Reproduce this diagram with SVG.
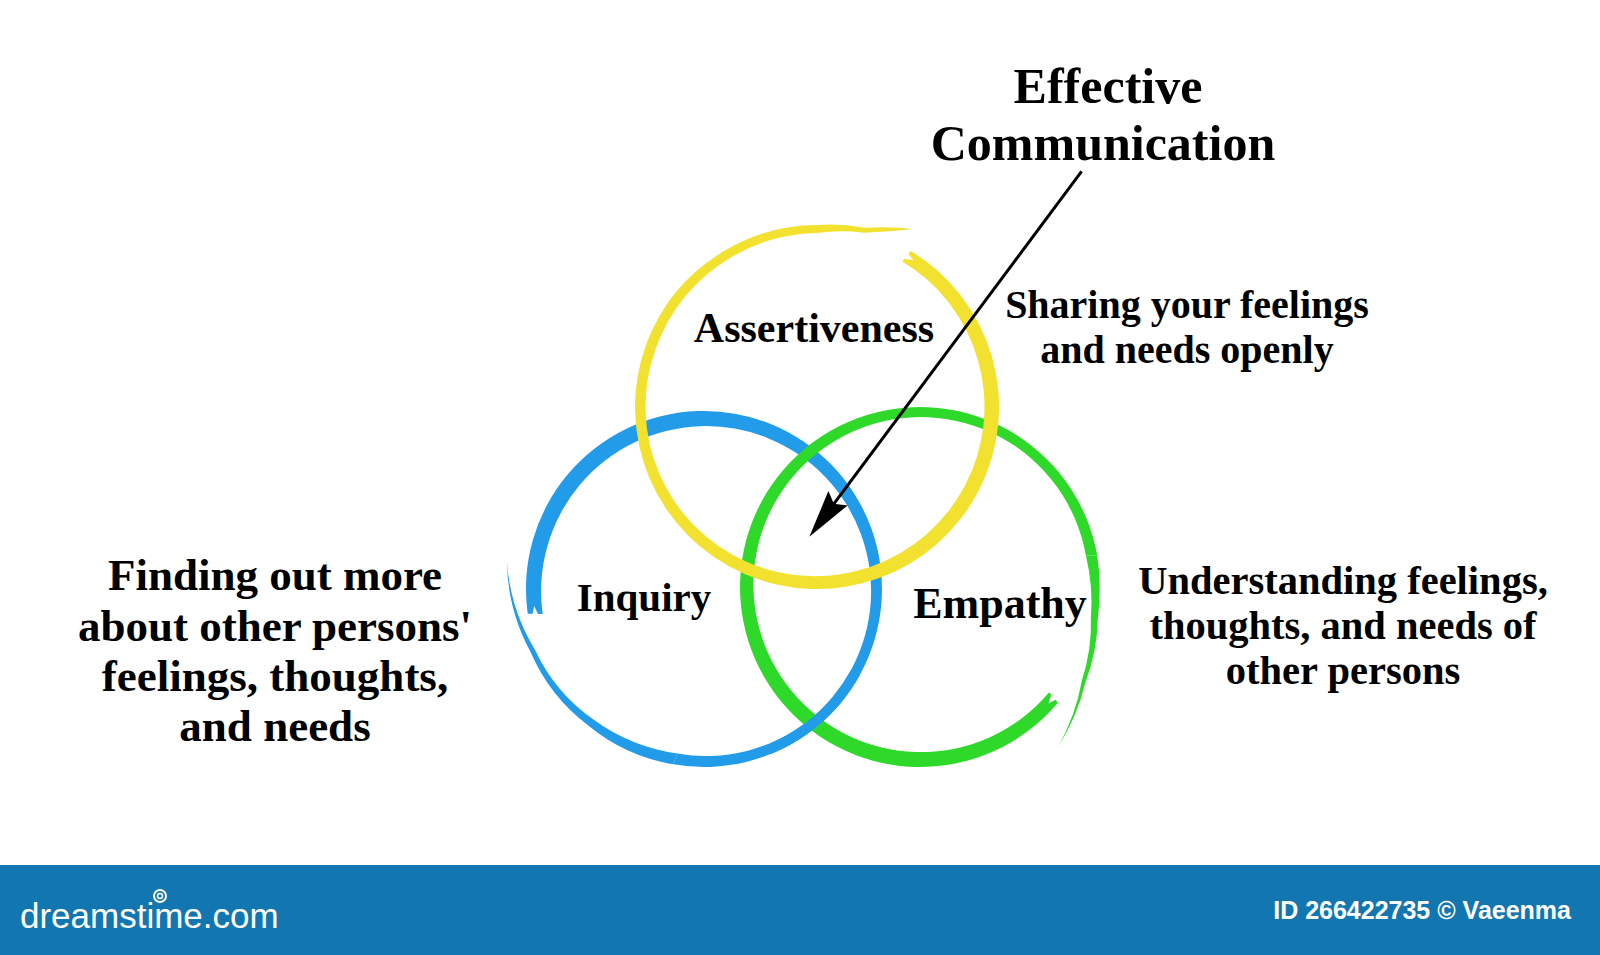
<svg xmlns="http://www.w3.org/2000/svg" width="1600" height="955" viewBox="0 0 1600 955">
  <defs>
    <style>
      .lbl { font-family: "Liberation Serif", "Times New Roman", serif; font-weight: bold; fill: #000; text-anchor: middle; }
      .yellowf { fill: #f2e22f; }
      .bluef { fill: #229be8; }
      .greenf { fill: #2fd92a; }
      .notch { fill: #ffffff; }
      .arrow { stroke: #000; stroke-width: 3; fill: none; }
      .band { fill: #1277b1; }
      .bandtxt { font-family: "Liberation Sans", Arial, sans-serif; fill: #ffffff; }
    </style>
    <marker id="head" markerUnits="userSpaceOnUse" viewBox="0 0 48 26" markerWidth="48" markerHeight="26" refX="28" refY="13" orient="auto">
      <path d="M0,1 L48,13 L0,25 L7,13 Z" fill="#000"/>
    </marker>
    <clipPath id="bottomCross">
      <rect x="770" y="670" width="90" height="90"/>
    </clipPath>
  </defs>

  <rect width="1600" height="955" fill="#ffffff"/>

  <g id="inquiry">
    <path id="blue-ring" class="bluef" d="M 527.7,613.8 A 178 178 0 1 1 673.1,764.3 L 677.4,753.6 A 165 165 0 1 0 542.7,614.1 Z"/>
    <path class="bluef" d="M 673.1,764.3 Q 625.9,756.5 588.9,726.1 Q 549.8,696.9 530.6,652.1 Q 507.5,609.6 506.9,561.3 Q 510.1,609.4 535.3,650.4 Q 555.4,693.1 594.1,720 Q 630.5,746.6 677.4,753.6 Z"/>
    <polygon class="notch" points="532.4,615.5 538.3,614.7 534.1,606"/>
    <text class="lbl" x="644" y="611" font-size="41">Inquiry</text>
  </g>

  <g id="empathy">
    <path class="greenf" d="M 1057.9,702.7 A 180 180 0 1 1 1097.3,555.7 L 1085.9,555.6 A 167.5 167.5 0 1 0 1049.2,692.3 Z"/>
    <path class="greenf" d="M 1097.3,555.7 Q 1102,587 1097.8,618.3 Q 1097.2,651.5 1085.4,682.5 Q 1077.3,716.6 1058.4,746.2 Q 1075.7,715.4 1081.9,680.5 Q 1092,649.6 1090.9,617.1 Q 1093.4,587 1085.9,555.6 Z"/>
    <polygon class="notch" points="1056.8,699 1051.4,694.5 1048.4,703.6"/>
    <text class="lbl" x="1000" y="618" font-size="44">Empathy</text>
  </g>

  <g id="inquiry-overlap">
    <use href="#blue-ring" clip-path="url(#bottomCross)"/>
  </g>

  <g id="assertiveness">
    <path class="yellowf" d="M 910.7,251 A 182 182 0 1 1 646,344.8 L 655.7,348.7 A 169.5 169.5 0 1 0 902.3,261.4 Z"/>
    <path class="yellowf" d="M 646,344.8 Q 669,282.8 726.25,249.8 Q 768.3,225.2 817,225 Q 841.2,223.3 865,227.8 Q 890,226.5 913,229 Q 890,231.5 863.7,232.7 Q 840.3,229.7 817,233 Q 770.6,233.7 730.75,257.6 Q 677.2,289.7 655.7,348.7 Z"/>
    <polygon class="notch" points="907.4,252.7 903.8,258.7 913.4,260.3"/>
    <text class="lbl" x="814" y="342" font-size="42">Assertiveness</text>
  </g>

  <g id="title">
    <text class="lbl" x="1108" y="103" font-size="50">Effective</text>
    <text class="lbl" x="1103" y="160" font-size="50">Communication</text>
  </g>

  <g id="desc-assertiveness">
    <text class="lbl" x="1187" y="318" font-size="40">Sharing your feelings</text>
    <text class="lbl" x="1187" y="363" font-size="40">and needs openly</text>
  </g>

  <g id="desc-inquiry">
    <text class="lbl" x="275" y="590" font-size="45">Finding out more</text>
    <text class="lbl" x="275" y="641" font-size="45">about other persons'</text>
    <text class="lbl" x="275" y="691" font-size="45">feelings, thoughts,</text>
    <text class="lbl" x="275" y="741" font-size="45">and needs</text>
  </g>

  <g id="desc-empathy">
    <text class="lbl" x="1343" y="594" font-size="40.5">Understanding feelings,</text>
    <text class="lbl" x="1343" y="639" font-size="40.5">thoughts, and needs of</text>
    <text class="lbl" x="1343" y="684" font-size="40.5">other persons</text>
  </g>

  <g id="connectors">
    <path class="arrow" d="M 1081.6,171.4 L 821.3,520.7" marker-end="url(#head)"/>
  </g>

  <g id="footer">
    <rect class="band" x="0" y="865" width="1600" height="90"/>
    <text class="bandtxt" x="20" y="928" font-size="35">dreamstime.com</text>
    <circle cx="160" cy="896" r="6" fill="none" stroke="#ffffff" stroke-width="2"/>
    <circle cx="160" cy="896" r="2.5" fill="none" stroke="#ffffff" stroke-width="1.5"/>
    <text class="bandtxt" x="1571" y="919" font-size="25" font-weight="bold" text-anchor="end">ID 266422735 © Vaeenma</text>
  </g>
</svg>
